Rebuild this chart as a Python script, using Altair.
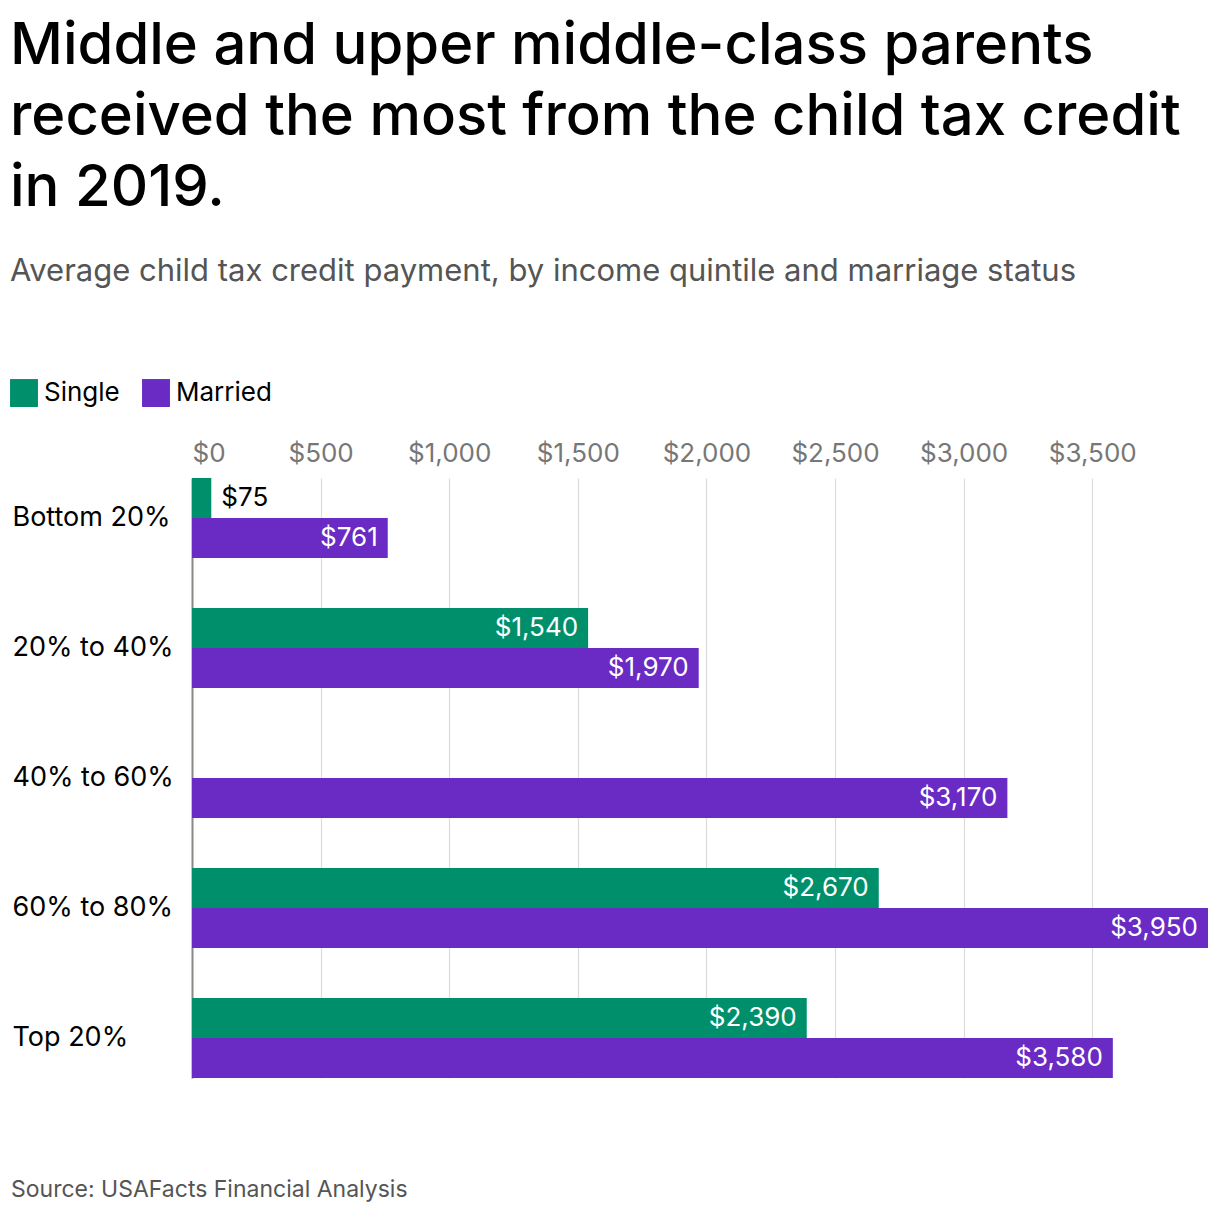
import altair as alt
import pandas as pd

categories = ["Bottom 20%", "20% to 40%", "40% to 60%", "60% to 80%", "Top 20%"]
single = [75, 1540, None, 2670, 2390]
married = [761, 1970, 3170, 3950, 3580]
groups = ["Single", "Married"]
colors = ["#008f6b", "#6a2ac4"]

rows = []
for c, s, m in zip(categories, single, married):
    if s is not None:
        rows.append({"quintile": c, "status": "Single", "value": s})
    rows.append({"quintile": c, "status": "Married", "value": m})
df = pd.DataFrame(rows)

FONT = "Inter"
W, H = 1016, 600

y_enc = alt.Y("quintile:N", sort=categories,
              scale=alt.Scale(paddingInner=0.385, paddingOuter=0),
              axis=alt.Axis(title=None, ticks=False, labelAlign="left", labelPadding=180,
                            labelFontSize=27, labelColor="#000", labelFont=FONT,
                            domainColor="#8a8a85", domainWidth=2, grid=False))
x_enc = alt.X("value:Q", scale=alt.Scale(domain=[0, 3950], nice=False),
              axis=alt.Axis(title=None, orient="top", values=[0, 500, 1000, 1500, 2000, 2500, 3000, 3500],
                            format="$,.0f", labelFontSize=26, labelColor="#777", labelFont=FONT,
                            ticks=False, domain=False, labelPadding=12,
                            gridColor="#dcdcd6", gridWidth=1.2))
yoff = alt.YOffset("status:N", sort=groups, scale=alt.Scale(paddingInner=0, paddingOuter=0))

base = alt.Chart(df)

bars = base.mark_bar(size=40).encode(
    x=x_enc, y=y_enc, yOffset=yoff,
    color=alt.Color("status:N", sort=groups,
                    scale=alt.Scale(domain=groups, range=colors),
                    legend=alt.Legend(title=None, orient="none", legendX=-182, legendY=-99,
                                      direction="horizontal", symbolType="square", symbolSize=780,
                                      symbolStrokeWidth=0, labelFontSize=26, labelFont=FONT,
                                      labelColor="#000", columnPadding=22, labelOffset=6)),
)

inside = base.mark_text(align="right", baseline="middle", dx=-10, fontSize=26, font=FONT,
                        color="white").encode(
    x="value:Q", y=alt.Y("quintile:N", sort=categories), yOffset=yoff,
    text=alt.Text("value:Q", format="$,.0f"),
).transform_filter("datum.value >= 300")

outside = base.mark_text(align="left", baseline="middle", dx=10, fontSize=26, font=FONT,
                         color="black").encode(
    x="value:Q", y=alt.Y("quintile:N", sort=categories), yOffset=yoff,
    text=alt.Text("value:Q", format="$,.0f"),
).transform_filter("datum.value < 300")

source = alt.Chart(pd.DataFrame({"t": ["Source: USAFacts Financial Analysis"]})).mark_text(
    align="left", baseline="middle", fontSize=23, font=FONT, color="#555"
).encode(x=alt.value(-181), y=alt.value(712), text="t:N")

chart = alt.layer(bars, inside, outside, source).properties(
    width=W, height=H,
    title=alt.TitleParams(
        text=["Middle and upper middle-class parents", "received the most from the child tax credit", "in 2019."],
        subtitle="Average child tax credit payment, by income quintile and marriage status",
        anchor="start", font=FONT, fontSize=58, fontWeight=500, color="#000", lineHeight=71,
        subtitleFont=FONT, subtitleFontSize=31, subtitleColor="#555", subtitlePadding=39,
        offset=92,
    ),
    padding={"left": 2, "top": 10, "right": 2, "bottom": 5},
).configure_view(stroke=None)

chart.save("out.html", embed_options={"renderer": "svg", "actions": False})
